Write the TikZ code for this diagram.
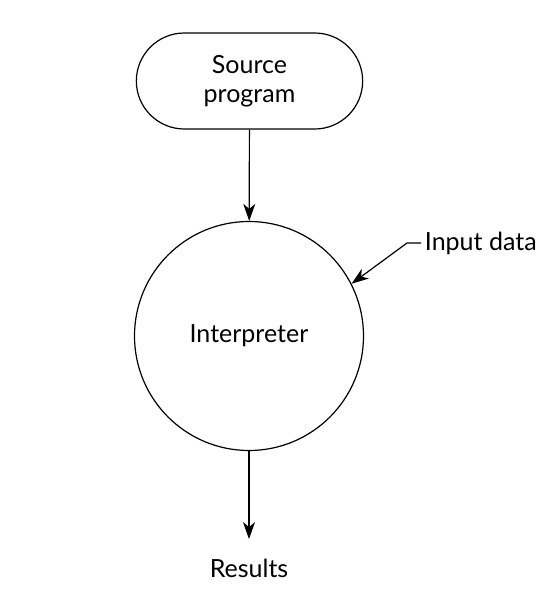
\documentclass[tikz,border=0pt]{standalone}
\usepackage{fontspec}
\setmainfont{Lato}
\usetikzlibrary{arrows.meta,shapes.misc}
\begin{document}
\begin{tikzpicture}[x=1pt,y=-1pt,>={Stealth[length=17pt,width=12pt,inset=5pt]},line width=1.2pt,
        every node/.style={font=\fontsize{25}{29}\selectfont}]
        \useasboundingbox (0,0) rectangle (556,612);
        \node[draw,rounded rectangle,minimum width=233pt,minimum height=96pt,align=center] (src) at (249.5,81) {Source\\program};
        \node[draw,circle,minimum size=229pt] (interp) at (249,336) {Interpreter};
        \node[inner ysep=19pt] (res) at (249,568) {Results};
        \node[anchor=west] (input) at (421,243) {Input data};
        \coordinate (bend) at (407,243);
        \draw[->] (src) -- (interp);
        \draw[->] (interp) -- (res);
        \draw[->] (input.west) -- (bend) -- (interp.27);
    \end{tikzpicture}
\end{document}
